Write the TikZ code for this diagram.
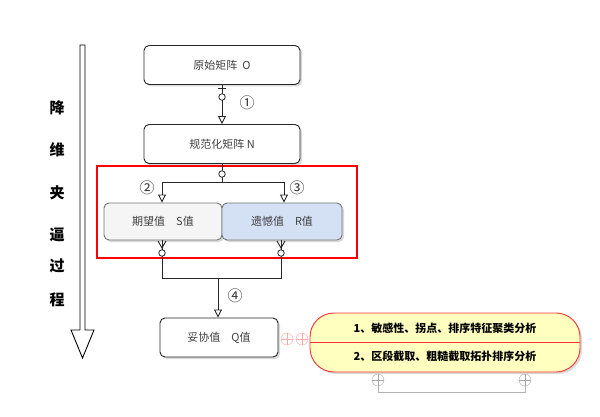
\documentclass[tikz,border=0pt]{standalone}
\usepackage{fontspec}
\setmainfont{Noto Sans CJK SC}
\usetikzlibrary{arrows.meta,shadows}
\definecolor{bluefill}{HTML}{D4E1F5}
\definecolor{greyfill}{HTML}{F5F5F5}
\definecolor{yel}{HTML}{FFFFC0}
\tikzset{
  box/.style={draw=black!85,line width=0.9pt,rounded corners=5pt,minimum width=156pt,minimum height=39pt,fill=white,drop shadow={opacity=0.3,shadow xshift=2pt,shadow yshift=-2pt},font=\fontsize{11}{13}\selectfont,text=black!75},
  num/.style={font=\fontsize{15}{15}\selectfont,text=black!80},
  conn/.style={draw=black!85,line width=0.9pt},
  tri/.style={-{Triangle[open,length=8pt,width=8pt]}},
  dot/.style={circle,draw=black!85,line width=0.8pt,fill=white,inner sep=0pt,minimum size=6.5pt},
  side/.style={font=\bfseries\fontsize{15}{15}\selectfont},
  plus/.style={circle,draw=#1,inner sep=0pt,minimum size=12pt,path picture={\draw[#1] (path picture bounding box.north)--(path picture bounding box.south) (path picture bounding box.west)--(path picture bounding box.east);}}
}
\begin{document}
\begin{tikzpicture}[x=1pt,y=-1pt]
\useasboundingbox (0,0) rectangle (600,417);
% big arrow
\draw[line width=0.9pt,fill=white] (80,45)--(85,45)--(85,330)--(94,330)--(82.5,358)--(71,330)--(80,330)--cycle;
\foreach \t/\y in {降/108,维/150,夹/193,逼/235,过/266,程/300} \node[side] at (57,\y) {\t};
% boxes
\node[box] (O) at (222,65) {原始矩阵\ \ O};
\node[box] (N) at (222,144) {规范化矩阵 N};
\node[box,minimum width=118pt,minimum height=37pt,fill=greyfill,draw=black!55] (S) at (163,221.5) {期望值\quad S值};
\node[box,minimum width=120pt,minimum height=37pt,fill=bluefill,draw=black!55] (R) at (282,221.5) {遗憾值\quad R值};
\node[box,minimum width=118pt,minimum height=39pt] (Q) at (219,337.5) {妥协值\quad Q值};
% red frame
\draw[red,line width=2pt] (97,166) rectangle (357,258);
% O -> N
\draw[conn,tri] (O.south) -- (N.north);
\draw[conn] (218,88)--(226,88);
\node[dot] (d1) at (222,97) {};
\node[num] at (247,103) {①};
% N -> S,R
\coordinate (j1) at (222,182);
\draw[conn] (N.south) -- (j1);
\node[dot] (d2) at (222,174) {};
\draw[conn,tri] (j1) -| (S.north -| 162,0);
\draw[conn,tri] (j1) -| (R.north -| 284,0);
\node[num] at (147,188) {②};
\node[num] at (297,188) {③};
% S,R -> Q
\coordinate (j2) at (218,278);
\draw[conn] (S.south -| 162,0) -- (162,278) -- (281,278) -- (R.south -| 281,0);
\draw[conn,tri] (j2) -- (Q.north -| 218,0);
\draw[conn] (158,241)--(162,248)--(166,241) (277,241)--(281,248)--(285,241);
\node[dot] at (162,253) {};
\node[dot] at (281,253) {};
\node[num] at (235,296) {④};
% callout
\node[draw=red!80,line width=0.9pt,fill=yel,rounded corners=24pt,minimum width=270pt,minimum height=59pt,drop shadow={opacity=0.3,shadow xshift=2pt,shadow yshift=-2pt}] (C) at (445,342.5) {};
\draw[red!80,line width=0.8pt] (C.west) -- (C.east);
\node[font=\bfseries\fontsize{11}{13}\selectfont] at (445,328) {1、敏感性、拐点、排序特征聚类分析};
\node[font=\bfseries\fontsize{11}{13}\selectfont] at (445,356) {2、区段截取、粗糙截取拓扑排序分析};
\node[plus=red!35] at (287,339) {};
\node[plus=red!35] at (302,339) {};
\node[plus=black!35] (p1) at (378,380) {};
\node[plus=black!35] (p2) at (525,380) {};
\draw[black!30,line width=0.8pt] (p1.south) -- (378,392) -- (525,392) -- (p2.south);
\end{tikzpicture}
\end{document}
